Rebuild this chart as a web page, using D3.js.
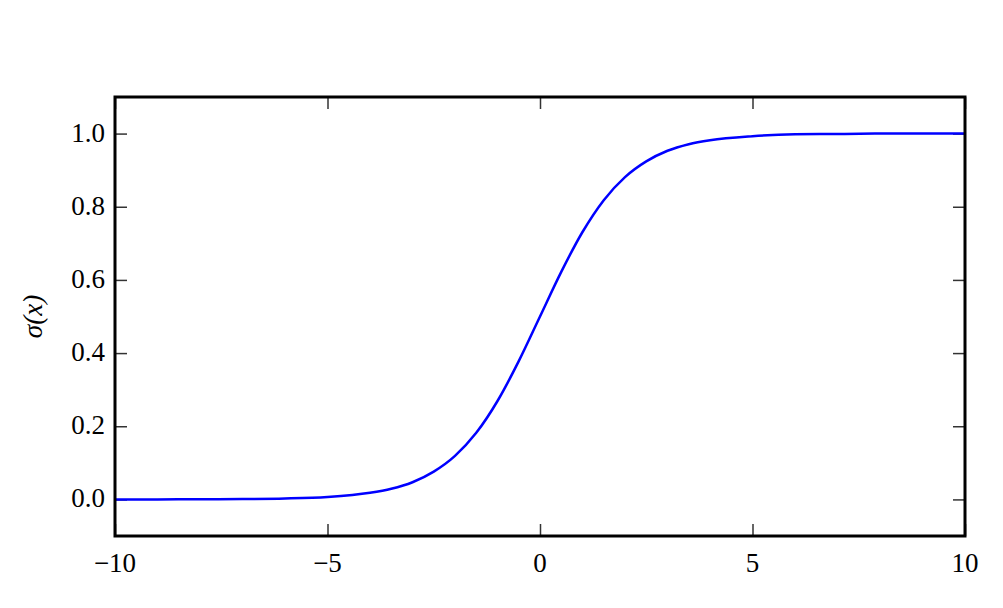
<!DOCTYPE html>
<html>
<head>
<meta charset="utf-8">
<script src="https://cdn.jsdelivr.net/npm/d3@7"></script>
<style>
  body { margin: 0; background: #fff; }
  text { font-family: "Liberation Serif", "DejaVu Serif", serif; }
</style>
</head>
<body>
<script>
// points
var xs = [-10, -9, -8, -7, -6, -5, -4, -3.5, -3, -2.5, -2, -1.5, -1, -0.5, 0, 0.5, 1, 1.5, 2, 2.5, 3, 3.5, 4, 5, 6, 7, 8, 9, 10];
var ys = [0.0000, 0.0001, 0.0003, 0.0009, 0.0025, 0.0067, 0.018, 0.029, 0.047, 0.076, 0.119, 0.182, 0.269, 0.378, 0.5, 0.622, 0.731, 0.818, 0.881, 0.924, 0.953, 0.971, 0.982, 0.993, 0.998, 0.999, 1.0, 1.0, 1.0];
var xTicks = [-10, -5, 0, 5, 10];
var yTicks = [0.0, 0.2, 0.4, 0.6, 0.8, 1.0];

var W = 1003, H = 608;
// plot box edges in pixels ("top" is taken by window.top)
var pL = 115, pR = 965, pT = 97, pB = 536;

var svg = d3.select('body').append('svg').attr('width', W).attr('height', H);

var x = d3.scaleLinear().domain([-10, 10]).range([pL, pR]);
var y = d3.scaleLinear().domain([-0.1, 1.1]).range([pB, pT]);

var fmtX = function(d){ return d < 0 ? "\u2212" + Math.abs(d) : String(d); };

// ticks on all four sides, pointing in
var tickLen = 12;
function ticks(axis, scale, vals, pos) {
  var g = svg.append('g').attr('transform', pos).call(axis(scale).tickValues(vals).tickSizeInner(-tickLen).tickSizeOuter(0).tickFormat(''));
  g.select('.domain').remove();
  g.selectAll('.tick line').attr('stroke', '#333').attr('stroke-width', 1.5);
  return g;
}
ticks(d3.axisBottom, x, xTicks, 'translate(0,' + pB + ')');
ticks(d3.axisTop, x, xTicks, 'translate(0,' + pT + ')');
ticks(d3.axisLeft, y, yTicks, 'translate(' + pL + ',0)');
ticks(d3.axisRight, y, yTicks, 'translate(' + pR + ',0)');

// tick labels
svg.selectAll('.xl').data(xTicks).enter().append('text')
  .attr('x', d => x(d)).attr('y', pB + 36)
  .attr('text-anchor', 'middle').attr('font-size', 27).attr('fill', '#000')
  .text(fmtX);
svg.selectAll('.yl').data(yTicks).enter().append('text')
  .attr('x', pL - 10).attr('y', d => y(d) + 8)
  .attr('text-anchor', 'end').attr('font-size', 27).attr('fill', '#000')
  .text(d => d.toFixed(1));

// curve
var line = d3.line().x((d, i) => x(xs[i])).y(d => y(d)).curve(d3.curveMonotoneX);
svg.append('path').datum(ys).attr('d', line)
  .attr('fill', 'none').attr('stroke', '#0000ff').attr('stroke-width', 2.5);

// frame
svg.append('rect').attr('x', pL).attr('y', pT)
  .attr('width', pR - pL).attr('height', pB - pT)
  .attr('fill', 'none').attr('stroke', '#000').attr('stroke-width', 3);

// y label
svg.append('text')
  .attr('transform', 'translate(42,' + ((pT + pB) / 2) + ') rotate(-90)')
  .attr('text-anchor', 'middle').attr('font-size', 27).attr('font-style', 'italic')
  .text('σ(x)');
</script>
</body>
</html>
